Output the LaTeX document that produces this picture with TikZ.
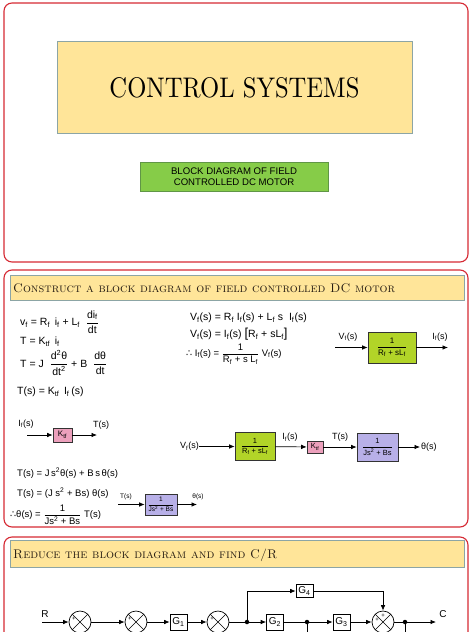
\documentclass[tikz,border=0pt]{standalone}
\usepackage{fontspec}
\usepackage{amsmath}
\usepackage{graphicx}
\usetikzlibrary{arrows.meta}
\newfontfamily\eqf{Liberation Sans}
\newfontfamily\dvf{DejaVu Sans}
\newcommand\sbs[1]{\textsubscript{#1}}
\newcommand\frc[2]{$\dfrac{\text{#1}}{\text{#2}}$}
\definecolor{slidered}{RGB}{214,42,52}
\definecolor{hdryellow}{RGB}{255,229,153}
\definecolor{hdrborder}{RGB}{140,165,165}
\definecolor{greenbox}{RGB}{134,204,72}
\definecolor{greenborder}{RGB}{96,150,70}
\definecolor{limebox}{RGB}{178,212,40}
\definecolor{pinkbox}{RGB}{236,160,188}
\definecolor{lavbox}{RGB}{184,176,232}
\definecolor{hdrtext}{RGB}{40,30,20}
\tikzset{
  slide/.style={draw=slidered, line width=1.1pt, rounded corners=8pt},
  hdr/.style={fill=hdryellow, draw=hdrborder, line width=0.8pt},
  eq/.style={font=\eqf\fontsize{9.5}{11}\selectfont, inner sep=0pt, anchor=west},
  eqb/.style={font=\eqf\fontsize{10.5}{12}\selectfont, inner sep=0pt, anchor=west},
  lbl/.style={font=\eqf\fontsize{9}{10}\selectfont, inner sep=0pt},
  blk/.style={draw=black!80, line width=0.6pt, inner sep=0pt, font=\eqf\fontsize{8}{9}\selectfont, align=center},
  arr/.style={-{Latex[length=5.5pt,width=4.5pt]}, line width=0.7pt},
  ln/.style={line width=0.7pt},
  sumj/.style={circle, draw, line width=0.7pt, minimum size=22pt, inner sep=0pt,
    path picture={\draw[line width=0.6pt] (path picture bounding box.north west) -- (path picture bounding box.south east)
      (path picture bounding box.north east) -- (path picture bounding box.south west);}},
  gbox/.style={draw, line width=0.7pt, minimum width=17pt, minimum height=16pt, inner sep=0pt, font=\eqf\fontsize{10}{10}\selectfont},
  dotc/.style={circle, fill, minimum size=4.5pt, inner sep=0pt},
  sgn/.style={font=\eqf\fontsize{6}{6}\selectfont, inner sep=0pt},
}
\begin{document}
\begin{tikzpicture}[x=1pt,y=-1pt]
\useasboundingbox (0,0) rectangle (474,632);
\fill[white] (0,0) rectangle (474,632);
\begin{scope}
\clip (0,0) rectangle (474,632);
% ---------- slide 1
\draw[slide] (4,3) rectangle (468,262);
\node[hdr, minimum width=355pt, minimum height=92pt, inner sep=0pt] (title) at (234.5,87) {};
\node[inner sep=0pt, anchor=base] (titletxt) at (234.5,97) {\resizebox{250pt}{20pt}{CONTROL SYSTEMS}};
\node[fill=greenbox, draw=greenborder, line width=0.8pt, minimum width=188pt, minimum height=29pt,
  inner sep=0pt, align=center, font=\eqf\fontsize{9.6}{11}\selectfont] (sub) at (234,176.5)
  {BLOCK DIAGRAM OF FIELD\\CONTROLLED DC MOTOR};
% ---------- slide 2
\draw[slide] (4,270) rectangle (468,527);
\node[hdr, minimum width=454pt, minimum height=25pt, inner sep=0pt] (hdr2) at (237,287.5) {};
\node[anchor=base west, inner sep=0pt, text=hdrtext] (hdr2t) at (13,292)
  {\resizebox{382pt}{!}{\fontsize{14}{14}\selectfont\textsc{Construct a block diagram of field controlled DC motor}}};
% left equations
\node[eqb] (e1) at (20,322) {v\sbs{f} = R\sbs{f}\, i\sbs{f} + L\sbs{f}\; \frc{di\sbs{f}}{dt}};
\node[eqb] (e2) at (20,342) {T = K\sbs{tf}\, i\sbs{f}};
\node[eqb] (e3) at (20,363) {T = J\; \frc{d\textsuperscript{2}θ}{dt\textsuperscript{2}} + B\; \frc{dθ}{dt}};
\node[eqb] (e4) at (17,392) {T(s) = K\sbs{tf}\, I\sbs{f}\,(s)};
% middle equations
\node[eqb] (m1) at (190,318) {V\sbs{f}(s) = R\sbs{f} I\sbs{f}(s) + L\sbs{f} s\; I\sbs{f}(s)};
\node[eqb] (m2) at (190,334) {V\sbs{f}(s) = I\sbs{f}(s) {\fontsize{13}{13}\selectfont[}R\sbs{f} + sL\sbs{f}{\fontsize{13}{13}\selectfont]}};
\node[eq] (m3) at (186,354) {{\dvf ∴} I\sbs{f}(s) = \frc{1}{R\sbs{f} + s L\sbs{f}} V\sbs{f}(s)};
% block 1
\coordinate (a1) at (335,347.5);
\node[blk, fill=limebox, minimum width=48pt, minimum height=31pt] (b1) at (392,347.5) {\frc{1}{R\sbs{f} + sL\sbs{f}}};
\coordinate (o1) at (448,347.5);
\node[lbl] (l1) at (348,337) {V\sbs{f}(s)};
\node[lbl] (l2) at (440,337) {I\sbs{f}(s)};
\draw[arr] (a1) -- (b1);
\draw[arr] (b1) -- (o1);
% block 2
\coordinate (a2) at (27,435);
\node[blk, fill=pinkbox, minimum width=19pt, minimum height=14pt] (k1) at (62.5,435) {K\sbs{tf}};
\coordinate (o2) at (97,435);
\node[lbl] (l3) at (26,424) {I\sbs{f}(s)};
\node[lbl] (l4) at (101,425) {T(s)};
\draw[arr] (a2) -- (k1);
\draw[arr] (k1) -- (o2);
% full chain
\node[lbl, anchor=west] (l5) at (180,446.5) {V\sbs{f}(s)};
\node[blk, fill=limebox, minimum width=40pt, minimum height=28pt, font=\eqf\fontsize{7.5}{8}\selectfont] (b2) at (255,446.5) {\frc{1}{R\sbs{f} + sL\sbs{f}}};
\node[blk, fill=pinkbox, minimum width=16pt, minimum height=12pt, font=\eqf\fontsize{7.5}{8}\selectfont] (k2) at (315,447) {K\sbs{tf}};
\node[blk, fill=lavbox, minimum width=41pt, minimum height=28pt, font=\eqf\fontsize{7.5}{8}\selectfont] (b3) at (377.5,447) {\frc{1}{Js\textsuperscript{2} + Bs}};
\coordinate (o3) at (420,447);
\node[lbl, anchor=west] (l6) at (421,447) {θ(s)};
\node[lbl] (l7) at (290,437.5) {I\sbs{f}(s)};
\node[lbl] (l8) at (340,437.5) {T(s)};
\draw[arr] (l5) -- (b2);
\draw[arr] (b2) -- (k2);
\draw[arr] (k2) -- (b3);
\draw[arr] (b3) -- (o3);
% bottom equations
\node[eq] (e5) at (17,473) {T(s) = J\,s\textsuperscript{2}θ(s) + B\,s\,θ(s)};
\node[eq] (e6) at (17,493) {T(s) = (J s\textsuperscript{2} + Bs) θ(s)};
\node[eq] (e7) at (10,515) {{\dvf ∴}θ(s) = \frc{1}{Js\textsuperscript{2} + Bs} T(s)};
% small block
\coordinate (a4) at (118,504.5);
\node[blk, fill=lavbox, minimum width=32pt, minimum height=21pt, font=\eqf\fontsize{6.5}{7}\selectfont] (b4) at (161,504.5) {\frc{1}{Js\textsuperscript{2} + Bs}};
\coordinate (o4) at (197,504.5);
\node[lbl, font=\eqf\fontsize{6.5}{7}\selectfont] (l9) at (126,497) {T(s)};
\node[lbl, font=\eqf\fontsize{6.5}{7}\selectfont] (l10) at (198,497) {θ(s)};
\draw[arr] (a4) -- (b4);
\draw[arr] (b4) -- (o4);
% ---------- slide 3
\draw[slide] (4,537) rectangle (468,660);
\node[hdr, minimum width=454pt, minimum height=27pt, inner sep=0pt] (hdr3) at (237,553.5) {};
\node[anchor=base west, inner sep=0pt, text=hdrtext] (hdr3t) at (13,558)
  {\resizebox{264pt}{!}{\fontsize{14}{14}\selectfont\textsc{Reduce the block diagram and find C/R}}};
% block diagram
\coordinate (rin) at (42,622);
\node[font=\eqf\fontsize{10}{10}\selectfont, inner sep=0pt] (R) at (45,614) {R};
\node[sumj] (s1) at (80,622) {};
\node[sumj] (s2) at (136,622) {};
\node[gbox] (g1) at (178.5,622) {G\sbs{1}};
\node[sumj] (s3) at (218,622) {};
\node[dotc] (d1) at (247,622) {};
\node[gbox] (g2) at (275,622) {G\sbs{2}};
\node[dotc] (d2) at (307,622) {};
\node[gbox] (g3) at (341.5,622) {G\sbs{3}};
\node[sumj] (s4) at (383,622) {};
\node[dotc] (d3) at (405,622) {};
\coordinate (cout) at (436,622);
\node[font=\eqf\fontsize{10}{10}\selectfont, inner sep=0pt] (C) at (443,614) {C};
\node[gbox, minimum height=13pt] (g4) at (304.5,591) {G\sbs{4}};
\node[sgn] (p1) at (74,619) {+};
\node[sgn] (p2) at (130,619) {+};
\node[sgn] (p3) at (212,619) {+};
\node[sgn] (p4) at (377,620) {+};
\node[sgn] (p5) at (383,615.5) {+};
\draw[arr] (rin) -- (s1);
\draw[arr] (s1) -- (s2);
\draw[arr] (s2) -- (g1);
\draw[arr] (g1) -- (s3);
\draw[ln] (s3) -- (d1);
\draw[arr] (d1) -- (g2);
\draw[ln] (g2) -- (d2);
\draw[arr] (d2) -- (g3);
\draw[arr] (g3) -- (s4);
\draw[ln] (s4) -- (d3);
\draw[arr] (d3) -- (cout);
\draw[arr] (d1) |- (g4);
\draw[arr] (g4) -| (s4);
\draw[ln] (d2) -- ++(0,20);
\draw[ln] (d3) -- ++(0,20);
\end{scope}
\end{tikzpicture}
\end{document}
